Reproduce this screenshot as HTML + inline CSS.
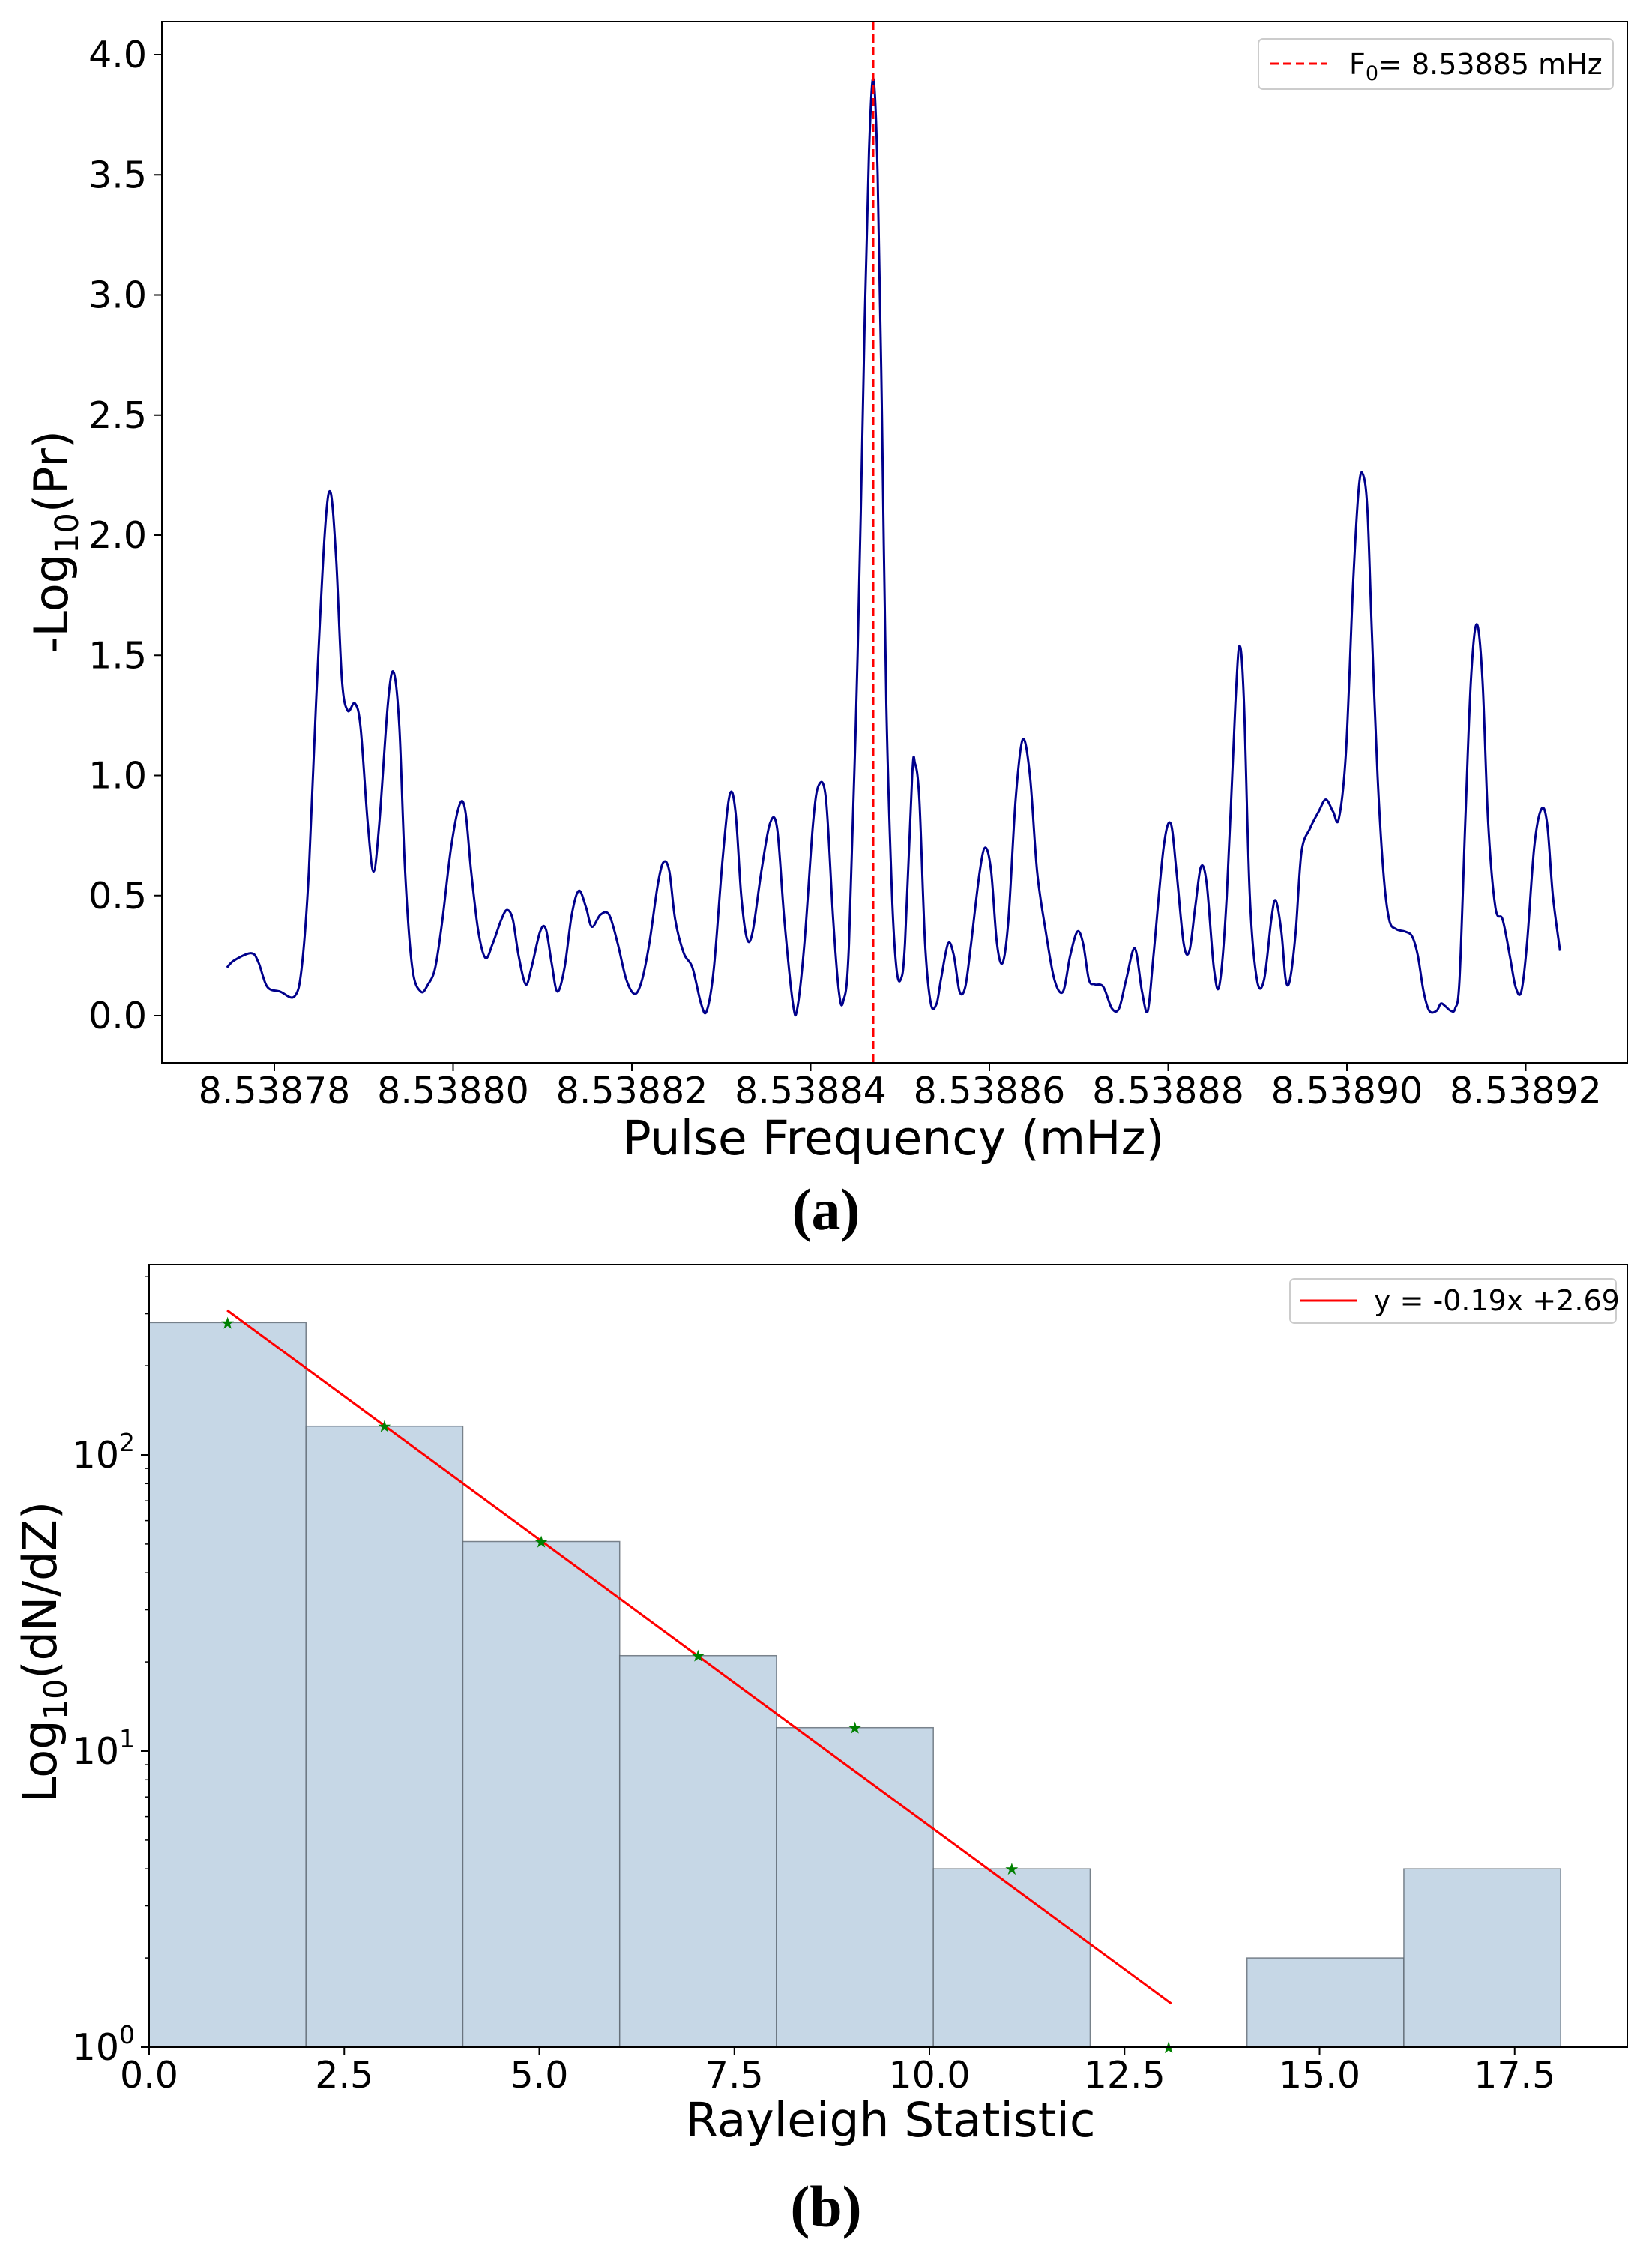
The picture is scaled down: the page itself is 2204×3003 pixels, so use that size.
<!DOCTYPE html>
<html><head><meta charset="utf-8"><style>
html,body{margin:0;padding:0;background:#fff;}
svg{display:block;}
text{font-family:"DejaVu Sans","Liberation Sans",sans-serif;fill:#000;}
.serif{font-family:"Liberation Serif","DejaVu Serif",serif;font-weight:bold;}
</style></head><body>
<svg id="s" width="2204" height="3003" viewBox="0 0 2204 3003" xmlns="http://www.w3.org/2000/svg">
<rect width="2204" height="3003" fill="#fff"/>
<g id="a"></g>
<rect x="216" y="29" width="1955" height="1389" fill="none" stroke="#000" stroke-width="2"/>
<line x1="1165" y1="29" x2="1165" y2="1418" stroke="#f00" stroke-width="3" stroke-dasharray="11,6"/>
<g id="aticks"></g>
<text x="1192" y="1540" font-size="63" text-anchor="middle">Pulse Frequency (mHz)</text>
<text transform="translate(90,723) rotate(-90)" font-size="62" text-anchor="middle">-Log<tspan font-size="43" dy="14">10</tspan><tspan dy="-14">(Pr)</tspan></text>
<text class="serif" x="1102" y="1640" font-size="78" text-anchor="middle">(a)</text>
<rect x="1679" y="52" width="473" height="67" rx="6" fill="#fff" stroke="#ccc" stroke-width="2"/>
<line x1="1695" y1="85" x2="1770" y2="85" stroke="#f00" stroke-width="3" stroke-dasharray="11,6"/>
<text x="1800" y="99" font-size="38">F<tspan font-size="27" dy="8">0</tspan><tspan dy="-8">= 8.53885 mHz</tspan></text>

<g id="b"></g>
<rect x="199" y="1687" width="1972" height="1044" fill="none" stroke="#000" stroke-width="2"/>
<g id="bticks"></g>
<text x="1188" y="2850" font-size="63" text-anchor="middle">Rayleigh Statistic</text>
<text transform="translate(75,2204) rotate(-90)" font-size="62" text-anchor="middle">Log<tspan font-size="43" dy="14">10</tspan><tspan dy="-14">(dN/dZ)</tspan></text>
<text class="serif" x="1102" y="2970" font-size="78" text-anchor="middle">(b)</text>
<rect x="1721" y="1706" width="435" height="59" rx="6" fill="#fff" stroke="#ccc" stroke-width="2"/>
<line x1="1735" y1="1735" x2="1810" y2="1735" stroke="#f00" stroke-width="3"/>
<text x="1833" y="1748" font-size="38">y = -0.19x +2.69</text>
</svg>
<script>
var NS="http://www.w3.org/2000/svg";
function el(p,t,a,txt){var e=document.createElementNS(NS,t);for(var k in a)e.setAttribute(k,a[k]);if(txt!=null)e.textContent=txt;p.appendChild(e);return e;}
var S=1.9165;
var d=[158,0.2,163,0.23,175,0.26,180,0.22,186,0.12,195,0.1,205,0.08,210,0.2,215,0.6,220,1.3,226,2.0,230,2.18,234,1.9,238,1.4,242,1.27,247,1.3,251,1.2,256,0.8,260,0.6,264,0.8,270,1.3,274,1.43,278,1.2,282,0.6,287,0.2,293,0.1,298,0.13,303,0.2,308,0.4,314,0.7,320,0.88,324,0.85,328,0.6,333,0.35,338,0.24,343,0.3,349,0.4,353,0.44,357,0.4,361,0.25,366,0.13,370,0.2,376,0.35,380,0.36,384,0.22,388,0.1,393,0.2,398,0.42,403,0.52,408,0.45,412,0.37,418,0.42,424,0.42,430,0.3,436,0.15,442,0.09,447,0.15,452,0.3,458,0.55,462,0.64,466,0.6,470,0.4,476,0.26,482,0.2,488,0.05,492,0.02,497,0.2,503,0.65,508,0.92,512,0.85,516,0.5,520,0.32,524,0.35,530,0.6,536,0.8,541,0.78,546,0.4,552,0.05,555,0.03,560,0.3,566,0.8,570,0.96,575,0.9,580,0.4,584,0.1,587,0.06,591,0.3,597,1.5,602,2.9,605,3.6,608,3.9,611,3.5,614,2.5,617,1.3,621,0.5,624,0.2,627,0.15,630,0.3,635,1.0,637,1.05,640,0.9,644,0.3,648,0.05,652,0.05,655,0.15,660,0.3,664,0.25,668,0.1,672,0.12,676,0.3,682,0.6,686,0.7,690,0.6,694,0.3,698,0.22,702,0.4,707,0.9,712,1.15,717,1.0,722,0.6,728,0.35,734,0.15,740,0.1,745,0.25,750,0.35,754,0.3,758,0.15,762,0.13,768,0.12,774,0.03,779,0.03,784,0.15,790,0.28,795,0.1,799,0.02,803,0.25,810,0.7,815,0.8,819,0.6,824,0.3,828,0.27,832,0.45,836,0.62,840,0.55,845,0.2,849,0.13,854,0.5,860,1.3,863,1.54,866,1.3,870,0.5,875,0.15,880,0.15,885,0.4,888,0.48,892,0.35,895,0.15,898,0.15,902,0.35,906,0.68,912,0.78,918,0.85,923,0.9,928,0.85,932,0.82,937,1.1,942,1.8,946,2.2,949,2.25,952,2.1,955,1.6,959,1.0,963,0.6,967,0.4,972,0.36,978,0.35,983,0.33,987,0.25,991,0.1,995,0.02,1000,0.02,1003,0.05,1006,0.04,1010,0.02,1013,0.03,1016,0.15,1020,0.8,1024,1.4,1028,1.63,1032,1.4,1036,0.8,1041,0.45,1046,0.4,1051,0.25,1055,0.12,1059,0.1,1063,0.3,1068,0.7,1073,0.86,1077,0.8,1081,0.5,1086,0.27];
var P=[];for(var i=0;i<d.length;i+=2)P.push([d[i]*S,1355-d[i+1]*320.5]);
var path="M"+P[0][0].toFixed(1)+","+P[0][1].toFixed(1);
for(var i=0;i<P.length-1;i++){var p0=P[Math.max(0,i-1)],p1=P[i],p2=P[i+1],p3=P[Math.min(P.length-1,i+2)];
var c1=[p1[0]+(p2[0]-p0[0])/6,p1[1]+(p2[1]-p0[1])/6],c2=[p2[0]-(p3[0]-p1[0])/6,p2[1]-(p3[1]-p1[1])/6];
path+=" C"+c1[0].toFixed(1)+","+c1[1].toFixed(1)+" "+c2[0].toFixed(1)+","+c2[1].toFixed(1)+" "+p2[0].toFixed(1)+","+p2[1].toFixed(1);}
var A=document.getElementById("a");
el(A,"path",{d:path,fill:"none",stroke:"#00008b","stroke-width":3});
var AT=document.getElementById("aticks");
for(var k=0;k<=8;k++){var y=1355-k*160.25;el(AT,"line",{x1:205,y1:y,x2:216,y2:y,stroke:"#000","stroke-width":2});
el(AT,"text",{x:196,y:y+17,"font-size":49,"text-anchor":"end"},(k*0.5).toFixed(1));}
var xl=["8.53878","8.53880","8.53882","8.53884","8.53886","8.53888","8.53890","8.53892"];
for(var k=0;k<8;k++){var x=366+k*238.5;el(AT,"line",{x1:x,y1:1418,x2:x,y2:1429,stroke:"#000","stroke-width":2});
el(AT,"text",{x:x,y:1472,"font-size":49,"text-anchor":"middle"},xl[k]);}
var B=document.getElementById("b");
function bx(v){return 199+v*104.1;}function by(v){return 2731-Math.log10(v)*395;}
var h=[280,125,51,21,12,4,1,2,4];
for(var i=0;i<9;i++){if(h[i]<=1)continue;var x0=bx(2.01*i),x1=bx(2.01*(i+1)),y=by(h[i]);
el(B,"rect",{x:x0,y:y,width:x1-x0,height:2731-y,fill:"#c6d7e6",stroke:"#5d6670","stroke-width":1.5,"stroke-opacity":0.8});}
el(B,"line",{x1:bx(1),y1:1748,x2:bx(13.1),y2:2673,stroke:"#f00","stroke-width":3});
var st=[[1.005,280],[3.015,125],[5.025,51],[7.035,21],[9.045,12],[11.055,4],[13.065,1]];
st.forEach(function(s){el(B,"text",{x:bx(s[0]),y:by(s[1])+8,"font-size":22,"text-anchor":"middle",style:"fill:#008000"},"★");});
var BT=document.getElementById("bticks");
for(var k=0;k<=7;k++){var x=bx(k*2.5);el(BT,"line",{x1:x,y1:2731,x2:x,y2:2742,stroke:"#000","stroke-width":2});
el(BT,"text",{x:x,y:2785,"font-size":49,"text-anchor":"middle"},(k*2.5).toFixed(1));}
for(var dcd=0;dcd<=2;dcd++){var y=by(Math.pow(10,dcd));el(BT,"line",{x1:188,y1:y,x2:199,y2:y,stroke:"#000","stroke-width":2});
var t=el(BT,"text",{x:180,y:y+17,"font-size":49,"text-anchor":"end"},"10");el(t,"tspan",{dy:-22,"font-size":33},""+dcd);
for(var m=2;m<=9;m++){var v=m*Math.pow(10,dcd);if(v>427)break;var yy=by(v);el(BT,"line",{x1:193,y1:yy,x2:199,y2:yy,stroke:"#000","stroke-width":1.5});}}
</script>
</body></html>
